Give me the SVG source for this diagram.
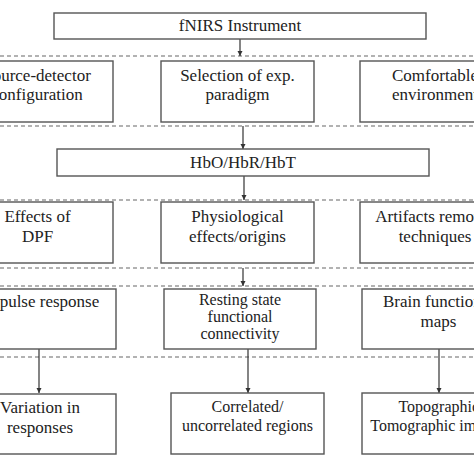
<svg xmlns="http://www.w3.org/2000/svg" width="474" height="474" viewBox="0 0 474 474">
<style>
.box{fill:#fff;stroke:#555;stroke-width:1.4}
.dash{stroke:#666;stroke-width:1.2;stroke-dasharray:4 3;fill:none}
.t{font-family:"Liberation Serif","Times New Roman",serif;font-size:17px;fill:#222;text-anchor:middle}
.s{font-size:16px}
.con{stroke:#333;stroke-width:1.2;fill:none;marker-end:url(#ah)}
</style>
<defs>
<marker id="ah" markerWidth="6" markerHeight="6" refX="5" refY="3" orient="auto" markerUnits="userSpaceOnUse">
<path d="M0,0.5 L5,3 L0,5.5 Z" fill="#333"/>
</marker>
</defs>
<rect width="474" height="474" fill="#fff"/>
<g id="separators">
<line class="dash" x1="0" y1="56" x2="474" y2="56"/>
<line class="dash" x1="0" y1="126" x2="474" y2="126"/>
<line class="dash" x1="0" y1="200" x2="474" y2="200"/>
<line class="dash" x1="0" y1="268" x2="474" y2="268"/>
<line class="dash" x1="0" y1="286" x2="474" y2="286"/>
<line class="dash" x1="0" y1="357" x2="474" y2="357"/>
</g>
<g id="connectors">
<line class="con" x1="240" y1="39" x2="240" y2="56"/>
<line class="con" x1="243" y1="126" x2="243" y2="149"/>
<line class="con" x1="244" y1="176" x2="244" y2="200"/>
<line class="con" x1="243" y1="268" x2="243" y2="286"/>
<line class="con" x1="39" y1="349" x2="39" y2="393"/>
<line class="con" x1="248" y1="349" x2="248" y2="393"/>
<line class="con" x1="439" y1="349" x2="439" y2="393"/>
</g>
<g id="n-instrument">
<rect class="box" x="54" y="13" width="372" height="26"/>
<text class="t" x="240" y="31">fNIRS Instrument</text>
</g>
<g id="n-source">
<rect class="box" x="-38" y="61" width="151" height="61"/>
<text class="t" x="37" y="81">Source-detector</text>
<text class="t" x="37" y="100">configuration</text>
</g>
<g id="n-paradigm">
<rect class="box" x="161" y="61" width="153" height="61"/>
<text class="t" x="237.5" y="81">Selection of exp.</text>
<text class="t" x="237.5" y="100">paradigm</text>
</g>
<g id="n-environment">
<rect class="box" x="360" y="61" width="152" height="61"/>
<text class="t" x="435" y="81">Comfortable</text>
<text class="t" x="435" y="100">environment</text>
</g>
<g id="n-hb">
<rect class="box" x="57" y="149" width="372" height="27"/>
<text class="t" x="243" y="168">HbO/HbR/HbT</text>
</g>
<g id="n-dpf">
<rect class="box" x="-38" y="202" width="151" height="61"/>
<text class="t" x="37.5" y="222">Effects of</text>
<text class="t" x="37.5" y="242">DPF</text>
</g>
<g id="n-physio">
<rect class="box" x="161" y="202" width="153" height="61"/>
<text class="t" x="237.5" y="222">Physiological</text>
<text class="t" x="237.5" y="242">effects/origins</text>
</g>
<g id="n-artifacts">
<rect class="box" x="360" y="202" width="152" height="61"/>
<text class="t" x="435" y="222">Artifacts removal</text>
<text class="t" x="435" y="242">techniques</text>
</g>
<g id="n-impulse">
<rect class="box" x="-36" y="289" width="152" height="60"/>
<text class="t" x="40" y="307">Impulse response</text>
</g>
<g id="n-resting">
<rect class="box" x="164" y="289" width="152" height="60"/>
<text class="t s" x="240" y="305">Resting state</text>
<text class="t s" x="240" y="322">functional</text>
<text class="t s" x="240" y="339">connectivity</text>
</g>
<g id="n-brainmaps">
<rect class="box" x="362" y="289" width="152" height="60"/>
<text class="t" x="438.5" y="307">Brain functional</text>
<text class="t" x="438.5" y="327">maps</text>
</g>
<g id="n-variation">
<rect class="box" x="-36" y="394" width="152" height="60"/>
<text class="t" x="40" y="413">Variation in</text>
<text class="t" x="40" y="433">responses</text>
</g>
<g id="n-correlated">
<rect class="box" x="171" y="393" width="153" height="61"/>
<text class="t s" x="247.5" y="412">Correlated/</text>
<text class="t s" x="247.5" y="431">uncorrelated regions</text>
</g>
<g id="n-topo">
<rect class="box" x="362" y="393" width="152" height="61"/>
<text class="t s" x="441" y="412">Topographic/</text>
<text class="t s" x="441" y="431">Tomographic imaging</text>
</g>
</svg>
